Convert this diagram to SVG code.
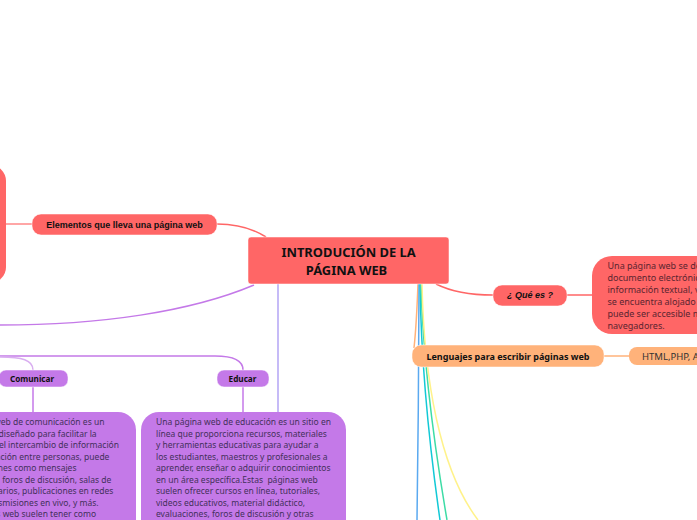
<svg xmlns="http://www.w3.org/2000/svg" width="697" height="520" viewBox="0 0 697 520">
<style>
.c{fill:none;stroke-width:1.5}
.n{font-family:"Noto Sans",sans-serif;font-size:8.500px;fill:#43305a}
.d{font-family:"Noto Sans",sans-serif;font-size:9px;fill:#5a2530}
.h{font-family:"Noto Sans",sans-serif;font-size:8.200px;font-weight:700;fill:#111;text-anchor:middle}
.g{font-family:"Noto Sans",sans-serif;font-size:9px;font-weight:700;fill:#111;text-anchor:middle}
.l{font-family:"Liberation Sans",sans-serif;font-size:9px;font-weight:700;fill:#111;text-anchor:middle}
.s{stroke:#fff;stroke-opacity:.5;stroke-width:1}
.r{fill:#ff6666}.p{fill:#c479e8}.o{fill:#ffb27a}
</style>
<g id="connectors">
<path class="c" stroke="#ff8888" d="M6 224H32"/>
<path class="c" stroke="#ff6666" d="M217 224C235 224 252 228 266 237"/>
<path class="c" stroke="#ff6666" d="M436 284C450 291 470 295 493 295"/>
<path class="c" stroke="#ff6666" d="M567 295H592"/>
<path class="c" stroke="#ffb27a" d="M604 356H629"/>
<path class="c" stroke="#ffb27a" d="M418 284C417 310 416 330 414 348"/>
<path class="c" stroke="#c479e8" d="M254 285C190 312 100 325 0 325"/>
<path class="c" stroke="#c479e8" d="M0 356H215C233 356 243 360 243 370"/>
<path class="c" stroke="#d9aef0" d="M0 357C22 357 33 360 33 370"/>
<path class="c" stroke="#c479e8" d="M33 387V412"/>
<path class="c" stroke="#c479e8" d="M243 387V412"/>
<path class="c" stroke="#b3a4f5" d="M278 284V412"/>
<path class="c" stroke="#5aa9f0" d="M419 284C419 350 418 450 417 520"/>
<path class="c" stroke="#12c9d6" d="M420 284C421 360 430 450 440 520"/>
<path class="c" stroke="#3ddca6" d="M421 284C423 360 435 450 447 520"/>
<path class="c" stroke="#fff28a" d="M422 284C424 380 440 470 478 520"/>
</g>
<g id="node-left"><rect class="r" x="-40" y="165" width="46" height="118" rx="16"/></g>
<g id="node-elementos"><rect class="r s" x="32" y="214" width="185" height="21" rx="9"/><text class="l" x="124.500" y="228">Elementos que lleva una página web</text></g>
<g id="node-central"><rect class="r s" x="248" y="237" width="201" height="47" rx="3"/><text font-family="Noto Sans, sans-serif" font-size="12.900" font-weight="700" fill="#111" text-anchor="middle"><tspan x="348.500" y="257">INTRODUCIÓN DE LA</tspan><tspan x="346.500" y="275">PÁGINA WEB</tspan></text></g>
<g id="node-que"><rect class="r s" x="493" y="285" width="74" height="21" rx="9"/><text class="l" x="530" y="298" font-style="italic">¿ Qué es ?</text></g>
<g id="node-def"><rect class="r" x="592" y="256" width="150" height="78" rx="20"/><text class="d"><tspan x="607.500" y="269">Una página web se define como un</tspan><tspan x="607.500" y="281">documento electrónico que contiene</tspan><tspan x="607.500" y="293">información textual, visual y sonora que</tspan><tspan x="607.500" y="305">se encuentra alojado en un servidor y</tspan><tspan x="607.500" y="317">puede ser accesible mediante</tspan><tspan x="607.500" y="329">navegadores.</tspan></text></g>
<g id="node-lenguajes"><rect class="o s" x="412" y="345" width="192" height="22" rx="9"/><text class="g" x="508" y="360">Lenguajes para escribir páginas web</text></g>
<g id="node-html"><rect class="o" x="629" y="347" width="90" height="18" rx="8"/><text x="642" y="360" font-family="Noto Sans, sans-serif" font-size="9.500" fill="#333">HTML,PHP, ASP</text></g>
<g id="node-comunicar"><rect class="p s" x="-1" y="370" width="69" height="17" rx="7"/><text class="h" x="32" y="382">Comunicar</text></g>
<g id="node-educar"><rect class="p s" x="217" y="370" width="52" height="17" rx="7"/><text class="h" x="242.500" y="382">Educar</text></g>
<g id="node-comunicar-text"><rect class="p" x="-80" y="412" width="216" height="130" rx="18"/><text class="n"><tspan x="-54" y="425">Una página web de comunicación es un</tspan><tspan x="-54" y="436.500">sitio en línea diseñado para facilitar la</tspan><tspan x="-54" y="448">interacción y el intercambio de información</tspan><tspan x="-54" y="459.500">y la comunicación entre personas, puede</tspan><tspan x="-54" y="471">incluir funciones como mensajes</tspan><tspan x="-54" y="482.500">instantáneos, foros de discusión, salas de</tspan><tspan x="-54" y="494">chat, comentarios, publicaciones en redes</tspan><tspan x="-54" y="505.500">sociales, transmisiones en vivo, y más.</tspan><tspan x="-54" y="517">Estas páginas web suelen tener como</tspan></text></g>
<g id="node-educar-text"><rect class="p" x="141" y="412" width="205" height="130" rx="18"/><text class="n"><tspan x="156" y="425">Una página web de educación es un sitio en</tspan><tspan x="156" y="436.500">línea que proporciona recursos, materiales</tspan><tspan x="156" y="448">y herramientas educativas para ayudar a</tspan><tspan x="156" y="459.500">los estudiantes, maestros y profesionales a</tspan><tspan x="156" y="471">aprender, enseñar o adquirir conocimientos</tspan><tspan x="156" y="482.500">en un área específica.Estas&#160; páginas web</tspan><tspan x="156" y="494">suelen ofrecer cursos en línea, tutoriales,</tspan><tspan x="156" y="505.500">videos educativos, material didáctico,</tspan><tspan x="156" y="517">evaluaciones, foros de discusión y otras</tspan></text></g>
</svg>
